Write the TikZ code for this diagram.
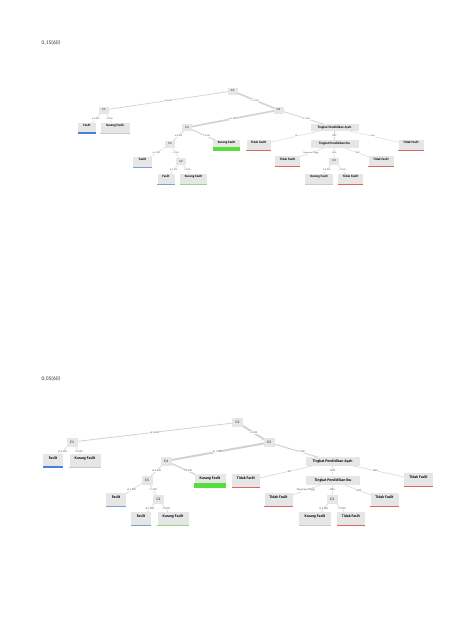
\documentclass[tikz,border=0pt]{standalone}
\usepackage{fontspec}
\setmainfont{Carlito}
\newfontfamily\symfont{DejaVu Sans}
\newcommand\lesym{{\symfont ≤}}
\definecolor{boxc}{RGB}{230,230,230}
\definecolor{edgec}{RGB}{210,210,210}
\definecolor{fasblue}{RGB}{70,130,215}
\definecolor{fasbluel}{RGB}{125,160,215}
\definecolor{kgreen}{RGB}{85,222,60}
\definecolor{kgreenl}{RGB}{140,220,120}
\definecolor{kgray}{RGB}{190,208,185}
\definecolor{tred}{RGB}{222,100,100}
\pgfdeclarelayer{bg}
\pgfdeclarelayer{edges}
\pgfsetlayers{bg,edges,main}
\newcommand\leafbar[3]{\fill[#2] (#1.south west) rectangle ([yshift=#3]#1.south east);}
\tikzset{
  inA/.style={fill=boxc, font=\fontsize{3}{3.5}\selectfont, inner sep=0pt, minimum width=10pt, minimum height=7pt},
  tpA/.style={inA, font=\bfseries\fontsize{3.3}{4}\selectfont, minimum width=48pt, minimum height=7.5pt},
  leafA/.style={fill=boxc, font=\bfseries\fontsize{3.3}{4}\selectfont, inner xsep=0pt, inner ysep=1.2pt, text height=2.8pt, text depth=5.5pt, minimum width=#1},
  elabA/.style={font=\fontsize{2.2}{2.5}\selectfont, fill=white, inner sep=0.3pt, text=black!70},
  inB/.style={fill=boxc, font=\fontsize{3.6}{4}\selectfont, inner sep=0pt, minimum width=11pt, minimum height=9pt},
  tpB/.style={inB, font=\bfseries\fontsize{3.9}{4.5}\selectfont, minimum width=54pt, minimum height=9pt},
  leafB/.style={fill=boxc, font=\bfseries\fontsize{3.9}{4.5}\selectfont, inner xsep=0pt, inner ysep=1.5pt, text height=3.5pt, text depth=7.5pt, minimum width=#1},
  elabB/.style={font=\fontsize{2.6}{3}\selectfont, fill=white, inner sep=0.3pt, text=black!70},
  edge/.style={draw=edgec, line width=#1},
  title/.style={font=\fontsize{5.5}{6}\selectfont, text=black!80}
}
\begin{document}
\begin{tikzpicture}[x=1pt,y=-1pt]
\begin{pgfonlayer}{bg}\fill[white] (0,0) rectangle (474,632);\end{pgfonlayer}
\useasboundingbox (0,0) rectangle (474,632);

% ---------- Tree 1 ----------
\node[title] (ta) at (51,43) {0,15(60)};
\node[inA] (a-c2) at (232.5,91) {C2};
\node[inA] (a-c1) at (104,110) {C1};
\node[inA] (a-c3) at (278.5,110) {C3};
\node[leafA=18pt] (a-f1) at (87,128) {Fasilt};
\node[leafA=29pt] (a-k1) at (115,128) {Kurang Fasilt};
\node[inA] (a-c4) at (187,127.5) {C4};
\node[tpA] (a-tpa) at (334.5,127.5) {Tingkat Pendidikan Ayah};
\node[inA] (a-c5) at (170,144) {C5};
\node[leafA=27pt] (a-k2) at (226.5,145) {Kurang Fasilt};
\node[leafA=24pt] (a-t1) at (258.5,145) {Tidak Fasilt};
\node[tpA] (a-tpi) at (334.5,144) {Tingkat Pendidikan Ibu};
\node[leafA=25pt] (a-t2) at (411,145) {Tidak Fasilt};
\node[leafA=19pt] (a-f2) at (142.5,162) {Fasilt};
\node[inA] (a-c2b) at (181,161.5) {C2};
\node[leafA=25pt] (a-t3) at (287.5,161.5) {Tidak Fasilt};
\node[inA] (a-c3b) at (334,161) {C3};
\node[leafA=25pt] (a-t4) at (381,161.5) {Tidak Fasilt};
\node[leafA=17pt] (a-f3) at (166,179) {Fasilt};
\node[leafA=27pt] (a-k3) at (193.5,179) {Kurang Fasilt};
\node[leafA=28pt] (a-k4) at (319,179) {Kurang Fasilt};
\node[leafA=25pt] (a-t5) at (350.5,179) {Tidak Fasilt};

\leafbar{a-f1}{fasblue}{2pt}
\leafbar{a-k1}{kgray}{1pt}
\leafbar{a-k2}{kgreen}{4pt}
\leafbar{a-t1}{tred}{0.8pt}
\leafbar{a-t2}{tred}{1pt}
\leafbar{a-f2}{fasbluel}{0.8pt}
\leafbar{a-t3}{tred}{0.8pt}
\leafbar{a-t4}{tred}{0.8pt}
\leafbar{a-f3}{fasbluel}{0.8pt}
\leafbar{a-k3}{kgreenl}{0.8pt}
\leafbar{a-k4}{kgray}{0.8pt}
\leafbar{a-t5}{tred}{0.8pt}

\begin{pgfonlayer}{edges}
\draw[edge=0.7pt] (a-c2.center) -- node[elabA]{\lesym{} 0.500} (a-c1.center);
\draw[edge=1.6pt] (a-c2.center) -- node[elabA]{> 0.500} (a-c3.center);
\draw[edge=0.4pt] (a-c1.center) -- node[elabA]{\lesym{} 0.500} (a-f1.center);
\draw[edge=0.4pt] (a-c1.center) -- node[elabA]{> 0.500} (a-k1.center);
\draw[edge=1.6pt] (a-c3.center) -- node[elabA]{\lesym{} 1.500} (a-c4.center);
\draw[edge=0.8pt] (a-c3.center) -- node[elabA]{> 1.500} (a-tpa.center);
\draw[edge=0.6pt] (a-c4.center) -- node[elabA]{\lesym{} 0.500} (a-c5.center);
\draw[edge=1pt] (a-c4.center) -- node[elabA]{> 0.500} (a-k2.center);
\draw[edge=0.4pt] (a-tpa.center) -- node[elabA]{SD} (a-t1.center);
\draw[edge=0.5pt] (a-tpa.center) -- node[elabA]{SMP} (a-tpi.center);
\draw[edge=0.4pt] (a-tpa.center) -- node[elabA]{SMA} (a-t2.center);
\draw[edge=0.4pt] (a-c5.center) -- node[elabA]{\lesym{} 1.500} (a-f2.center);
\draw[edge=0.4pt] (a-c5.center) -- node[elabA]{> 1.500} (a-c2b.center);
\draw[edge=0.4pt] (a-tpi.center) -- node[elabA]{Perguruan Tinggi} (a-t3.center);
\draw[edge=0.4pt] (a-tpi.center) -- node[elabA]{SMA} (a-c3b.center);
\draw[edge=0.4pt] (a-tpi.center) -- node[elabA]{SMP} (a-t4.center);
\draw[edge=0.4pt] (a-c2b.center) -- node[elabA]{\lesym{} 2.500} (a-f3.center);
\draw[edge=0.4pt] (a-c2b.center) -- node[elabA]{> 2.500} (a-k3.center);
\draw[edge=0.4pt] (a-c3b.center) -- node[elabA]{\lesym{} 2.500} (a-k4.center);
\draw[edge=0.4pt] (a-c3b.center) -- node[elabA]{> 2.500} (a-t5.center);
\end{pgfonlayer}

% ---------- Tree 2 ----------
\node[title] (tb) at (51,379) {0,05(60)};
\node[inB] (b-c2) at (237.5,422.5) {C2};
\node[inB] (b-c1) at (72,442) {C1};
\node[inB] (b-c3) at (269,442.5) {C3};
\node[leafB=20pt] (b-f1) at (53,461) {Fasilt};
\node[leafB=31pt] (b-k1) at (85,461) {Kurang Fasilt};
\node[inB] (b-c4) at (166,461) {C4};
\node[tpB] (b-tpa) at (332.5,461.5) {Tingkat Pendidikan Ayah};
\node[inB] (b-c5) at (147,480) {C5};
\node[leafB=31pt] (b-k2) at (210,481) {Kurang Fasilt};
\node[leafB=28pt] (b-t1) at (246,481) {Tidak Fasilt};
\node[tpB] (b-tpi) at (333,480.5) {Tingkat Pendidikan Ibu};
\node[leafB=29pt] (b-t2) at (418.5,480) {Tidak Fasilt};
\node[leafB=20pt] (b-f2) at (116,500) {Fasilt};
\node[inB] (b-c2b) at (158.5,499) {C2};
\node[leafB=28pt] (b-t3) at (278.5,500) {Tidak Fasilt};
\node[inB] (b-c3b) at (332,499) {C3};
\node[leafB=28pt] (b-t4) at (384.5,500) {Tidak Fasilt};
\node[leafB=20pt] (b-f3) at (141,519) {Fasilt};
\node[leafB=31pt] (b-k3) at (173,519) {Kurang Fasilt};
\node[leafB=32pt] (b-k4) at (315,519) {Kurang Fasilt};
\node[leafB=28pt] (b-t5) at (351,519) {Tidak Fasilt};

\leafbar{b-f1}{fasblue}{2.5pt}
\leafbar{b-k1}{kgray}{1pt}
\leafbar{b-k2}{kgreen}{5pt}
\leafbar{b-t1}{tred}{0.9pt}
\leafbar{b-t2}{tred}{1.5pt}
\leafbar{b-f2}{fasbluel}{0.9pt}
\leafbar{b-t3}{tred}{0.9pt}
\leafbar{b-t4}{tred}{0.9pt}
\leafbar{b-f3}{fasbluel}{0.9pt}
\leafbar{b-k3}{kgreenl}{0.9pt}
\leafbar{b-k4}{kgray}{0.9pt}
\leafbar{b-t5}{tred}{0.9pt}

\begin{pgfonlayer}{edges}
\draw[edge=0.8pt] (b-c2.center) -- node[elabB]{\lesym{} 0.500} (b-c1.center);
\draw[edge=2pt] (b-c2.center) -- node[elabB]{> 0.500} (b-c3.center);
\draw[edge=0.5pt] (b-c1.center) -- node[elabB]{\lesym{} 0.500} (b-f1.center);
\draw[edge=0.5pt] (b-c1.center) -- node[elabB]{> 0.500} (b-k1.center);
\draw[edge=2pt] (b-c3.center) -- node[elabB]{\lesym{} 1.500} (b-c4.center);
\draw[edge=1pt] (b-c3.center) -- node[elabB]{> 1.500} (b-tpa.center);
\draw[edge=0.7pt] (b-c4.center) -- node[elabB]{\lesym{} 0.500} (b-c5.center);
\draw[edge=1.2pt] (b-c4.center) -- node[elabB]{> 0.500} (b-k2.center);
\draw[edge=0.5pt] (b-tpa.center) -- node[elabB]{SD} (b-t1.center);
\draw[edge=0.6pt] (b-tpa.center) -- node[elabB]{SMP} (b-tpi.center);
\draw[edge=0.5pt] (b-tpa.center) -- node[elabB]{SMA} (b-t2.center);
\draw[edge=0.5pt] (b-c5.center) -- node[elabB]{\lesym{} 1.500} (b-f2.center);
\draw[edge=0.5pt] (b-c5.center) -- node[elabB]{> 1.500} (b-c2b.center);
\draw[edge=0.5pt] (b-tpi.center) -- node[elabB]{Perguruan Tinggi} (b-t3.center);
\draw[edge=0.5pt] (b-tpi.center) -- node[elabB]{SMA} (b-c3b.center);
\draw[edge=0.5pt] (b-tpi.center) -- node[elabB]{SMP} (b-t4.center);
\draw[edge=0.5pt] (b-c2b.center) -- node[elabB]{\lesym{} 2.500} (b-f3.center);
\draw[edge=0.5pt] (b-c2b.center) -- node[elabB]{> 2.500} (b-k3.center);
\draw[edge=0.5pt] (b-c3b.center) -- node[elabB]{\lesym{} 2.500} (b-k4.center);
\draw[edge=0.5pt] (b-c3b.center) -- node[elabB]{> 2.500} (b-t5.center);
\end{pgfonlayer}
\end{tikzpicture}
\end{document}
